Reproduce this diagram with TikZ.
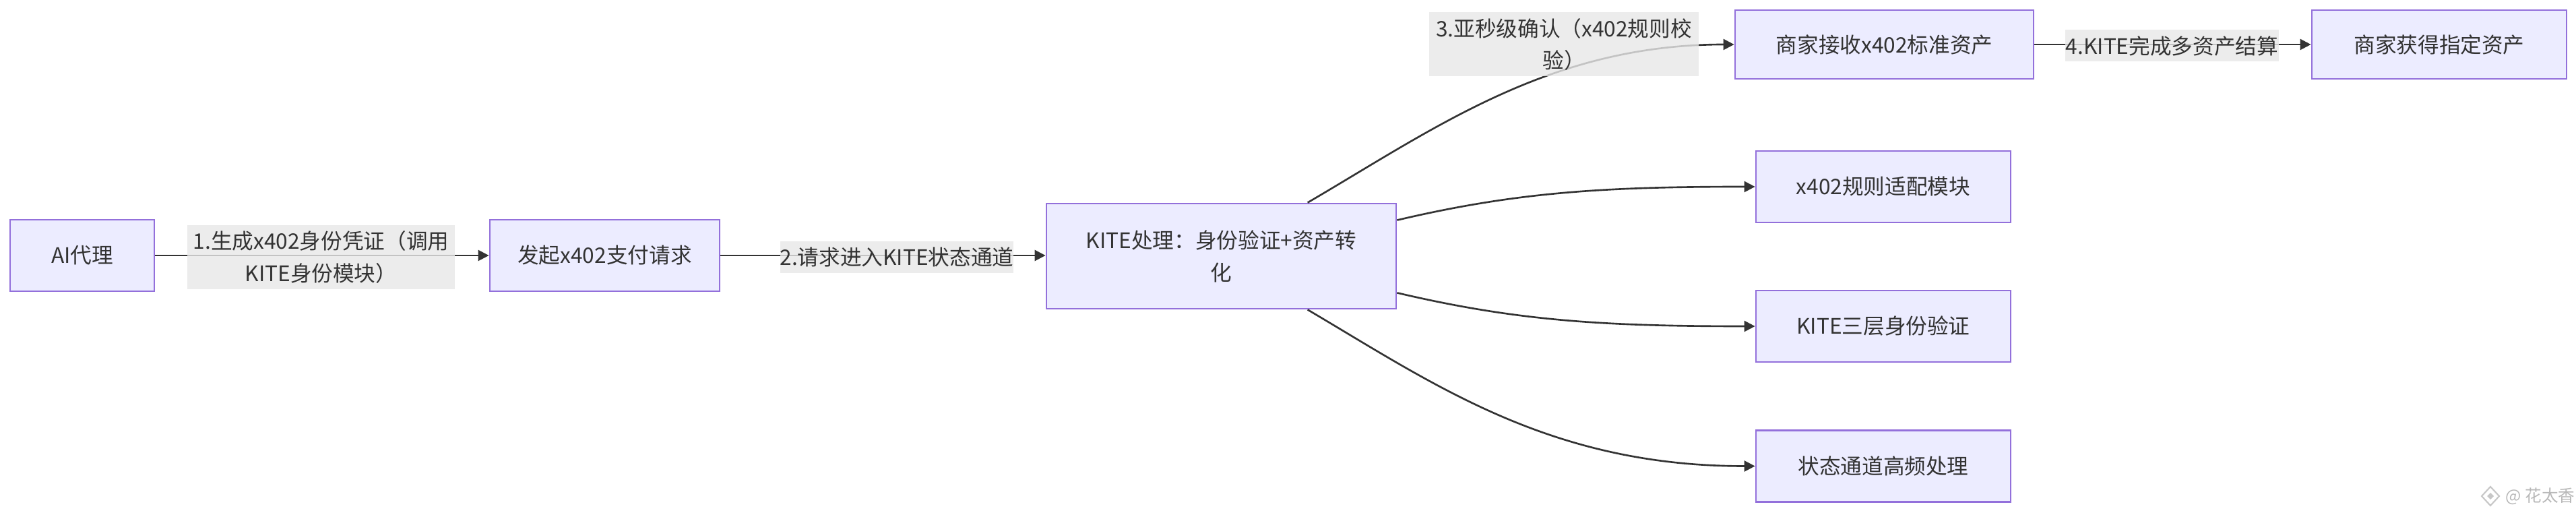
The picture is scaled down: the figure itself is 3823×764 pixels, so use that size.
\documentclass[tikz,border=0pt]{standalone}
\usepackage{fontspec}
\newfontfamily\cjk{Noto Sans CJK SC}
\usetikzlibrary{arrows.meta}
\definecolor{nodefill}{HTML}{ECECFF}
\definecolor{nodeline}{HTML}{9370DB}
\definecolor{edgecol}{HTML}{333333}
\definecolor{lblfill}{HTML}{E8E8E8}
\definecolor{txt}{HTML}{333333}
\newdimen\pxu \pxu=0.01cm
\tikzset{
  box/.style={draw=nodeline, fill=nodefill, line width=0.8pt, text=txt,
    font=\cjk\fontsize{9}{13.6}\selectfont, align=center, inner sep=0pt,
    minimum height=106\pxu},
  lbl/.style={fill=lblfill, fill opacity=0.8, text opacity=1, text=txt,
    font=\cjk\fontsize{9}{13.6}\selectfont, align=center, inner sep=0pt},
  conn/.style={draw=edgecol, line width=0.75pt, -{Triangle[length=0.16cm,width=0.16cm]}},
  wmark/.style={text=black!28, font=\cjk\fontsize{7}{8}\selectfont, inner sep=0pt}
}
\begin{document}
\begin{tikzpicture}[x=0.01cm, y=-0.01cm]
\useasboundingbox[fill=white] (0,0) rectangle (3823,764);

% nodes
\node[box, minimum width=214\pxu] (ai) at (122,379) {AI代理};
\node[box, minimum width=341\pxu] (req) at (897.5,379) {发起x402支付请求};
\node[box, minimum width=519\pxu, minimum height=156\pxu] (kite) at (1812.5,380) {KITE处理：身份验证+资产转\\化};
\node[box, minimum width=443\pxu, minimum height=102\pxu] (recv) at (2796.5,66) {商家接收x402标准资产};
\node[box, minimum width=378\pxu, minimum height=102\pxu] (got) at (3620,66) {商家获得指定资产};
\node[box, minimum width=378\pxu] (rule) at (2795,277) {x402规则适配模块};
\node[box, minimum width=378\pxu] (auth) at (2795,484) {KITE三层身份验证};
\node[box, minimum width=378\pxu] (chan) at (2795,691.5) {状态通道高频处理};

% anchor points on the KITE box
\path (kite.north west) ++(389,0) coordinate (ktop);
\path (kite.south west) ++(389,0) coordinate (kbot);
\path (kite.north east) ++(0,26) coordinate (kr1);
\path (kite.south east) ++(0,-25) coordinate (kr2);

% connectors
\draw[conn] (ai) -- (req);
\draw[conn] (req.east) -- (req.east -| kite.west);
\draw[conn] (recv) -- (got);
\draw[conn] (ktop) .. controls (2130,190) and (2300,66) .. (recv.west);
\draw[conn] (kr1) .. controls (2250,285) and (2380,277) .. (rule.west);
\draw[conn] (kr2) .. controls (2250,476) and (2380,484) .. (auth.west);
\draw[conn] (kbot) .. controls (2130,571) and (2300,691.5) .. (chan.west);

% edge labels
\node[lbl, minimum width=397\pxu, minimum height=95\pxu] (l1) at (476.5,381.5) {1.生成x402身份凭证（调用\\KITE身份模块）};
\node[lbl, minimum width=342\pxu, minimum height=47\pxu] (l2) at (1331,381.5) {2.请求进入KITE状态通道};
\node[lbl, minimum width=400\pxu, minimum height=95\pxu] (l3) at (2321,66) {3.亚秒级确认（x402规则校\\验）};
\node[lbl, minimum width=317\pxu, minimum height=47\pxu] (l4) at (3223.5,68) {4.KITE完成多资产结算};

% watermark
\draw[black!22, line width=0.6pt] (3696,722) -- (3709,736) -- (3696,750) -- (3683,736) -- cycle;
\fill[black!22] (3696,731) -- (3701,736) -- (3696,741) -- (3691,736) -- cycle;
\node[wmark, anchor=west] (wm) at (3718,736) {@ 花太香};
\end{tikzpicture}
\end{document}
